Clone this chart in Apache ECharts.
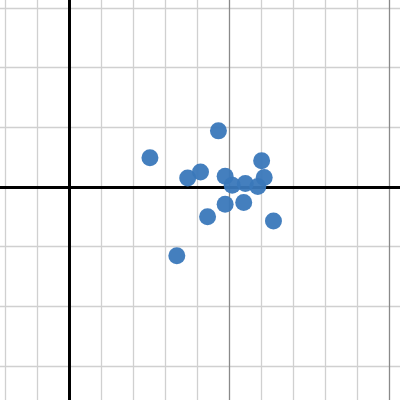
<!DOCTYPE html>
<html><head><meta charset="utf-8">
<script src="https://cdn.jsdelivr.net/npm/echarts@6/dist/echarts.min.js"></script>
<style>html,body{margin:0;padding:0}#c{width:400px;height:400px}</style>
</head><body><div id="c"></div>
<script>
const xValues = [2.53, 4.67, 3.71, 4.11, 4.88, 5.10, 5.51, 5.90, 6.02, 6.10, 4.88, 5.46, 4.33, 6.39, 3.37];
const yValues = [0.49, 0.94, 0.15, 0.25, 0.18, 0.03, 0.06, 0.01, 0.44, 0.16, -0.29, -0.26, -0.50, -0.57, -1.15];
const xGrid = [-2, -1, 1, 2, 3, 4, 6, 7, 8, 9];
const yGrid = [-3, -2, -1, 1, 2, 3];
const xMajor = [5, 10];

const pts = xValues.map((x, i) => [x, yValues[i]]);
const lines = [];
xGrid.forEach(v => lines.push({xAxis: v, lineStyle: {color: '#d0d0d0', width: 1.3}}));
yGrid.forEach(v => lines.push({yAxis: v, lineStyle: {color: '#d0d0d0', width: 1.3}}));
xMajor.forEach(v => lines.push({xAxis: v, lineStyle: {color: '#8a8a8a', width: 1.3}}));
lines.push({xAxis: 0, lineStyle: {color: '#000', width: 3}});
lines.push({yAxis: 0, lineStyle: {color: '#000', width: 3}});

const chart = echarts.init(document.getElementById('c'));
chart.setOption({
  animation: false,
  grid: {left: 0, right: 0, top: 0, bottom: 0},
  xAxis: {type: 'value', min: -2.156, max: 10.344, show: false, splitLine: {show: false}},
  yAxis: {type: 'value', min: -3.568, max: 3.132, show: false, splitLine: {show: false}},
  series: [{
    type: 'scatter',
    data: pts,
    symbolSize: 17,
    itemStyle: {color: '#3a78ba', opacity: 0.95},
    z: 3,
    markLine: {
      silent: true, symbol: 'none', label: {show: false},
      lineStyle: {type: 'solid'},
      data: lines,
      z: 1
    }
  }]
});
</script></body></html>
